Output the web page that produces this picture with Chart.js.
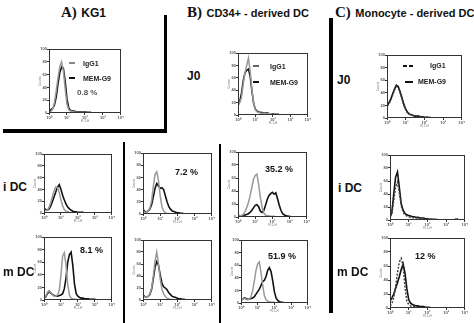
<!DOCTYPE html>
<html><head><meta charset="utf-8">
<script src="https://cdn.jsdelivr.net/npm/chart.js@4.4.1/dist/chart.umd.min.js"></script>
<style>
body{margin:0;background:#fff;}
#wrap{position:relative;width:474px;height:323px;overflow:hidden;background:#fff;font-family:'Liberation Sans',Arial,sans-serif;}
canvas{position:absolute;}
.t{position:absolute;white-space:nowrap;color:#111;font-weight:bold;line-height:1;}
.ser{font-family:'Liberation Serif','Times New Roman',serif;font-size:15px;}
.ln{position:absolute;background:#000;}
.lg{position:absolute;white-space:nowrap;font-weight:bold;font-size:7px;line-height:1;color:#222;}
.dash{position:absolute;height:2px;}
</style></head>
<body><div id="wrap">
<!-- titles -->
<div class="t" style="left:61px;top:4px;"><span class="ser">A)</span> <span style="font-size:12px">KG1</span></div>
<div class="t" style="left:187px;top:4px;"><span class="ser">B)</span> <span style="font-size:11px">CD34+ - derived DC</span></div>
<div class="t" style="left:335px;top:4px;"><span class="ser">C)</span> <span style="font-size:11px">Monocyte - derived DC</span></div>
<!-- row labels -->
<div class="t" style="left:187px;top:70px;font-size:12px">J0</div>
<div class="t" style="left:337px;top:74px;font-size:12px">J0</div>
<div class="t" style="left:3px;top:181px;font-size:12px">i DC</div>
<div class="t" style="left:3px;top:266px;font-size:12px">m DC</div>
<div class="t" style="left:338px;top:182px;font-size:12px">i DC</div>
<div class="t" style="left:337px;top:266px;font-size:12px">m DC</div>
<!-- frame lines -->
<div class="ln" style="left:164px;top:15px;width:3px;height:118px"></div>
<div class="ln" style="left:3px;top:129px;width:164px;height:4px"></div>
<div class="ln" style="left:329px;top:18px;width:4px;height:295px"></div>
<div class="ln" style="left:123px;top:142px;width:2px;height:181px"></div>
<div class="ln" style="left:219px;top:144px;width:2px;height:179px"></div>
<!-- legends -->
<div class="dash" style="left:69px;top:62px;width:6px;background:#888"></div>
<div class="lg" style="left:83px;top:60px">IgG1</div>
<div class="dash" style="left:69px;top:77px;width:6px;background:#111"></div>
<div class="lg" style="left:83px;top:75px">MEM-G9</div>
<div class="dash" style="left:253px;top:65px;width:6px;background:#666"></div>
<div class="lg" style="left:270px;top:63px">IgG1</div>
<div class="dash" style="left:253px;top:81px;width:6px;background:#111"></div>
<div class="lg" style="left:270px;top:79px">MEM-G9</div>
<div class="dash" style="left:403px;top:65px;width:4px;background:#111"></div>
<div class="dash" style="left:409px;top:65px;width:4px;background:#111"></div>
<div class="lg" style="left:430px;top:62px">IgG1</div>
<div class="dash" style="left:405px;top:81px;width:8px;background:#111"></div>
<div class="lg" style="left:418px;top:78px">MEM-G9</div>
<!-- percentages -->
<div class="t" style="left:77px;top:89px;font-size:8px;color:#555">0.8 %</div>
<div class="t" style="left:175px;top:168px;font-size:9px">7.2 %</div>
<div class="t" style="left:265px;top:165px;font-size:9px">35.2 %</div>
<div class="t" style="left:80px;top:246px;font-size:9px">8.1 %</div>
<div class="t" style="left:268px;top:252px;font-size:9px">51.9 %</div>
<div class="t" style="left:415px;top:252px;font-size:9px">12 %</div>
</div>
<script>
// ---- data: log10 fluorescence (decades) and counts (% of axis max) ----
const logDecades = [0,0.1,0.2,0.3,0.4,0.5,0.6,0.7,0.8,0.9,1.0,1.1,1.2,1.3,1.4,1.5,1.6,1.7,1.8,1.9,2.0,2.1,2.2,2.3,2.4,2.5,2.6,2.7,2.8,2.9,3.0,3.1,3.2,3.3,3.4,3.5,3.6,3.7,3.8,3.9,4.0];
const xTickLabels = ['10\u2070','10\u00b9','10\u00b2','10\u00b3','10\u2074'];
const yTickValues = [0,20,40,60,80,100];

const kg1J0_IgG1 = [1,2,6,16,34,55,72,80,66,38,14,5,3,2,2,1,1,1,1,1,1,0,1,0,0,0,0,0,0,0,0,0,0,0,0,0,0,0,0,0,0];
const kg1J0_MEM  = [0,5,7,12,25,45,63,72,70,50,22,8,4,3,3,2,2,2,2,2,2,1,1,1,0,0,0,0,0,0,0,0,0,0,0,0,0,0,0,0,0];
const cdJ0_IgG1  = [18,20,28,50,68,80,92,70,40,18,8,5,4,3,3,3,2,2,2,2,1,1,1,0,0,0,0,0,0,0,0,0,0,0,0,0,0,0,0,0,0];
const cdJ0_MEM   = [15,22,35,55,68,72,74,62,38,18,9,6,5,4,4,3,3,3,2,2,2,1,1,1,0,0,0,0,0,0,0,0,0,0,0,0,0,0,0,0,0];
const moJ0_IgG1  = [20,22,28,36,44,50,48,40,30,20,13,8,6,5,4,3,3,2,2,2,1,1,1,1,0,0,0,0,0,0,0,0,0,0,0,0,0,0,0,0,0];
const moJ0_MEM   = [18,24,30,38,46,52,50,42,32,22,14,9,6,5,4,3,3,3,2,2,1,1,1,0,0,0,0,0,0,0,0,0,0,0,0,0,0,0,0,0,0];
const kg1iDC_IgG1= [6,4,5,10,18,28,38,44,43,35,22,12,6,3,2,1,1,0,0,0,0,0,0,0,0,0,0,0,0,0,0,0,0,0,0,0,0,0,0,0,0];
const kg1iDC_MEM = [8,6,5,7,12,20,28,36,44,48,40,30,22,15,10,7,5,3,2,2,1,1,1,1,0,0,0,0,0,0,0,0,0,0,0,0,0,0,0,0,0];
const cdAiDC_IgG1= [5,3,3,5,10,22,45,65,69,55,30,12,5,2,1,1,0,0,0,0,0,0,0,0,0,0,0,0,0,0,0,0,0,0,0,0,0,0,0,0,0];
const cdAiDC_MEM = [8,4,3,5,8,15,28,42,50,46,42,43,40,30,20,12,8,5,4,3,2,2,1,1,0,0,0,0,0,0,0,0,0,0,0,0,0,0,0,0,0];
const cdBiDC_IgG1= [3,2,2,4,8,14,22,32,45,58,64,66,50,30,15,6,3,2,2,1,1,1,0,0,0,0,0,0,0,0,0,0,0,0,0,0,0,0,0,0,0];
const cdBiDC_MEM = [3,2,2,2,3,4,5,7,10,14,18,19,16,9,7,10,18,27,33,36,38,35,37,28,18,10,5,3,2,1,1,0,0,0,0,0,0,0,0,0,0];
const moiDC_IgG1 = [5,10,30,50,58,42,22,12,8,6,5,4,4,3,3,3,2,2,2,1,1,1,1,0,0,1,0,0,0,0,0,0,0,0,0,0,1,0,0,0,0];
const moiDC_MEM  = [4,12,40,66,74,50,25,15,10,8,7,6,5,5,4,4,3,3,3,2,2,1,1,1,1,0,0,0,0,0,0,0,0,0,0,1,1,0,0,0,0];
const kg1mDC_IgG1= [3,6,12,15,12,8,6,6,8,15,40,70,75,55,25,8,3,2,1,1,0,0,0,0,0,0,0,0,0,0,0,0,0,0,0,0,0,0,0,0,0];
const kg1mDC_MEM = [3,5,10,14,11,9,7,6,6,7,8,10,18,35,60,72,76,55,25,10,6,4,3,3,2,2,2,1,1,1,1,0,0,0,0,0,0,0,0,0,0];
const cdAmDC_IgG1= [6,5,5,6,10,20,40,65,80,60,35,18,10,6,3,2,1,1,0,0,0,0,0,0,0,0,0,0,0,0,0,0,0,0,0,0,0,0,0,0,0];
const cdAmDC_MEM = [8,6,5,6,9,18,35,55,64,58,42,28,22,20,17,12,9,6,5,4,3,2,2,1,1,0,0,0,0,0,0,0,0,0,0,0,0,0,0,0,0];
const cdBmDC_IgG1= [4,6,7,6,5,6,10,20,35,52,62,65,48,28,12,5,3,2,1,1,1,0,0,0,0,0,0,0,0,0,0,0,0,0,0,0,0,0,0,0,0];
const cdBmDC_MEM = [4,6,8,7,6,6,7,8,10,14,18,22,28,34,36,42,52,56,50,35,18,8,4,2,1,1,0,0,0,0,0,0,0,0,0,0,0,0,0,0,0];
const momDC_IgG1 = [3,6,15,30,50,66,71,60,30,10,5,3,2,2,1,1,1,0,0,0,0,0,0,0,0,0,0,0,0,0,0,0,0,0,0,0,0,0,0,0,0];
const momDC_MEM  = [10,14,20,28,36,45,55,63,50,28,12,7,5,4,3,3,2,2,2,1,1,1,0,0,0,0,0,0,0,0,0,0,0,0,0,0,0,0,0,0,0];

// ---- layout ----
const panels = [
  {box:[49,49,121,113],  igg:kg1J0_IgG1, mem:kg1J0_MEM, mono:false},
  {box:[238,53,308,115], igg:cdJ0_IgG1,  mem:cdJ0_MEM,  mono:false},
  {box:[387,55,462,118], igg:moJ0_IgG1,  mem:moJ0_MEM,  mono:true},
  {box:[44,154,112,213], igg:kg1iDC_IgG1,mem:kg1iDC_MEM,mono:false},
  {box:[143,153,212,214],igg:cdAiDC_IgG1,mem:cdAiDC_MEM,mono:false},
  {box:[238,152,307,217],igg:cdBiDC_IgG1,mem:cdBiDC_MEM,mono:false},
  {box:[390,155,465,220],igg:moiDC_IgG1, mem:moiDC_MEM, mono:true},
  {box:[44,237,112,300], igg:kg1mDC_IgG1,mem:kg1mDC_MEM,mono:false},
  {box:[143,240,212,300],igg:cdAmDC_IgG1,mem:cdAmDC_MEM,mono:false},
  {box:[241,240,308,303],igg:cdBmDC_IgG1,mem:cdBmDC_MEM,mono:false},
  {box:[390,238,465,308],igg:momDC_IgG1, mem:momDC_MEM, mono:true}
];
const YW = 11, XH = 10, PT = 3, PR = 3;
const framePlugin = {
  id:'frame',
  afterDraw(chart){
    const a = chart.chartArea, c = chart.ctx;
    c.save(); c.strokeStyle = '#333'; c.lineWidth = 1;
    c.strokeRect(Math.round(a.left)+0.5, Math.round(a.top)+0.5, Math.round(a.right-a.left)-1, Math.round(a.bottom-a.top)-1);
    c.restore();
  }
};
const wrap = document.getElementById('wrap');
panels.forEach((p)=>{
  const [L,T,R,B] = p.box;
  const cv = document.createElement('canvas');
  const w = (R-L)+YW+PR, h = (B-T)+PT+XH;
  cv.width = w; cv.height = h;
  cv.style.left = (L-YW)+'px'; cv.style.top = (T-PT)+'px';
  cv.style.width = w+'px'; cv.style.height = h+'px';
  wrap.insertBefore(cv, wrap.firstChild);
  const pts = arr => arr.map((v,i)=>({x:logDecades[i], y:v}));
  new Chart(cv, {
    type:'line',
    data:{datasets:[
      {label:'IgG1', data:pts(p.igg), borderColor:p.mono?'#444':'#999', borderWidth:1.5, borderDash:p.mono?[2,1.5]:[], pointRadius:0, tension:0, fill:false},
      {label:'MEM-G9', data:pts(p.mem), borderColor:'#111', borderWidth:1.6, pointRadius:0, tension:0, fill:false}
    ]},
    plugins:[framePlugin],
    options:{
      responsive:false, animation:false, devicePixelRatio:1,
      layout:{padding:{top:PT,right:PR,left:0,bottom:0}},
      plugins:{legend:{display:false}, tooltip:{enabled:false}},
      scales:{
        x:{type:'linear', min:0, max:4,
           afterFit:s=>{s.height = XH;},
           grid:{display:true, drawOnChartArea:false, drawTicks:true, tickLength:2, color:'#333'},
           border:{display:false},
           ticks:{stepSize:1, padding:0, maxRotation:0, autoSkip:false, color:'#555', font:{size:4, weight:'bold'}, callback:v=>xTickLabels[v]},
           title:{display:true, text:'FL1-H', padding:0, color:'#777', font:{size:3}}},
        y:{type:'linear', min:0, max:100,
           afterFit:s=>{s.width = YW;},
           grid:{display:true, drawOnChartArea:false, drawTicks:true, tickLength:2, color:'#333'},
           border:{display:false},
           afterBuildTicks:s=>{s.ticks = yTickValues.map(v=>({value:v}));},
           ticks:{padding:0, color:'#555', font:{size:4, weight:'bold'}},
           title:{display:true, text:'Counts', padding:0, color:'#777', font:{size:3}}}
      }
    }
  });
});
</script>
</body></html>
